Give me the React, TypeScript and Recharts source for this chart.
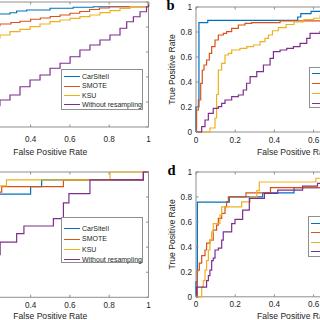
import React from 'react';
import { LineChart, Line, XAxis, YAxis, ReferenceArea, Legend } from 'recharts';

type Pt = [number, number];

const SERIES_NAMES = ['CarSiteII', 'SMOTE', 'KSU', 'Without resampling'];
const SERIES_COLORS = ['#0072BD', '#D95319', '#EDB120', '#7E2F8E'];
const RATE_TICKS = [0, 0.2, 0.4, 0.6, 0.8, 1];

// ROC points as [false positive rate, true positive rate]
const rocA_CarSiteII: Pt[] = [[0, 0], [0, 0.32], [0.02, 0.56], [0.04, 0.72], [0.07, 0.8], [0.1, 0.84], [0.15, 0.872], [0.2, 0.888], [0.235, 0.904], [0.295, 0.914], [0.329, 0.928], [0.38, 0.936], [0.499, 0.95], [0.617, 0.958], [0.719, 0.962], [1, 1]];
const rocA_SMOTE: Pt[] = [[0, 0], [0, 0.2], [0.01, 0.35], [0.03, 0.5], [0.06, 0.6], [0.1, 0.68], [0.14, 0.74], [0.19, 0.79], [0.22, 0.81], [0.244, 0.824], [0.3, 0.836], [0.346, 0.846], [0.4, 0.862], [0.45, 0.872], [0.5, 0.884], [0.55, 0.896], [0.6, 0.91], [0.65, 0.924], [0.7, 0.94], [0.75, 0.952], [0.8, 0.962], [1, 1]];
const rocA_KSU: Pt[] = [[0, 0], [0.01, 0.15], [0.03, 0.3], [0.06, 0.42], [0.1, 0.52], [0.14, 0.6], [0.18, 0.66], [0.22, 0.71], [0.244, 0.736], [0.295, 0.763], [0.346, 0.781], [0.397, 0.803], [0.448, 0.824], [0.499, 0.843], [0.55, 0.856], [0.601, 0.869], [0.651, 0.883], [0.702, 0.896], [0.753, 0.915], [0.804, 0.931], [0.855, 0.949], [0.906, 0.963], [1, 1]];
const rocA_Without: Pt[] = [[0, 0], [0.05, 0.04], [0.1, 0.08], [0.15, 0.12], [0.2, 0.17], [0.244, 0.216], [0.295, 0.256], [0.346, 0.322], [0.397, 0.376], [0.448, 0.416], [0.499, 0.47], [0.55, 0.51], [0.601, 0.562], [0.651, 0.616], [0.702, 0.656], [0.753, 0.696], [0.804, 0.736], [0.855, 0.79], [0.889, 0.842], [0.923, 0.882], [0.957, 0.922], [0.99, 0.962], [1, 1]];

const rocB_CarSiteII: Pt[] = [[0, 0], [0, 0.2], [0.015, 0.875], [0.06, 0.893], [0.519, 0.92], [0.535, 0.947], [0.587, 0.965], [0.7, 0.98], [0.8, 1], [1, 1]];
const rocB_SMOTE: Pt[] = [[0, 0], [0.003, 0.176], [0.012, 0.256], [0.024, 0.389], [0.032, 0.496], [0.041, 0.536], [0.054, 0.576], [0.068, 0.629], [0.08, 0.683], [0.097, 0.736], [0.114, 0.776], [0.139, 0.789], [0.156, 0.803], [0.182, 0.829], [0.216, 0.856], [0.25, 0.869], [0.284, 0.875], [0.429, 0.889], [0.7, 0.92], [0.8, 0.95], [0.9, 0.98], [1, 1]];
const rocB_KSU: Pt[] = [[0, 0], [0.046, 0], [0.071, 0.032], [0.097, 0.112], [0.105, 0.3], [0.114, 0.496], [0.131, 0.549], [0.148, 0.616], [0.165, 0.629], [0.182, 0.656], [0.224, 0.669], [0.259, 0.683], [0.293, 0.696], [0.327, 0.723], [0.352, 0.749], [0.37, 0.776], [0.39, 0.81], [0.42, 0.835], [0.46, 0.86], [0.5, 0.88], [0.55, 0.9], [0.6, 0.91], [0.633, 0.93], [0.75, 0.95], [0.85, 0.98], [1, 1]];
const rocB_Without: Pt[] = [[0, 0], [0.02, 0], [0.029, 0.043], [0.046, 0.096], [0.063, 0.149], [0.088, 0.189], [0.114, 0.203], [0.131, 0.229], [0.148, 0.256], [0.182, 0.283], [0.216, 0.296], [0.241, 0.336], [0.258, 0.39], [0.276, 0.443], [0.31, 0.483], [0.344, 0.536], [0.378, 0.589], [0.395, 0.643], [0.429, 0.656], [0.463, 0.669], [0.497, 0.683], [0.531, 0.709], [0.565, 0.749], [0.582, 0.789], [0.633, 0.803], [0.7, 0.83], [0.8, 0.88], [0.9, 0.94], [1, 1]];

const rocC_CarSiteII: Pt[] = [[0, 0], [0, 0.4], [0.02, 0.6], [0.05, 0.7], [0.1, 0.76], [0.15, 0.8], [0.2, 0.823], [0.4, 0.884], [0.456, 0.937], [0.974, 1], [1, 1]];
const rocC_SMOTE: Pt[] = [[0, 0], [0, 0.3], [0.02, 0.55], [0.05, 0.68], [0.1, 0.76], [0.16, 0.81], [0.22, 0.84], [0.253, 0.884], [0.567, 0.937], [0.974, 1], [1, 1]];
const rocC_KSU: Pt[] = [[0, 0], [0, 0.35], [0.03, 0.6], [0.07, 0.72], [0.12, 0.8], [0.18, 0.86], [0.22, 0.889], [0.277, 0.937], [0.804, 1], [1, 1]];
const rocC_Without: Pt[] = [[0, 0], [0.03, 0.05], [0.07, 0.11], [0.11, 0.18], [0.15, 0.26], [0.19, 0.34], [0.245, 0.441], [0.329, 0.508], [0.366, 0.569], [0.516, 0.628], [0.567, 0.753], [0.595, 0.827], [0.702, 0.937], [0.974, 1], [1, 1]];

const rocD_CarSiteII: Pt[] = [[0, 0], [0, 0.12], [0.007, 0.758], [0.17, 0.8], [0.34, 0.833], [0.5, 0.875], [0.65, 0.9], [0.8, 0.95], [0.9, 1], [1, 1]];
const rocD_SMOTE: Pt[] = [[0, 0], [0.007, 0.213], [0.017, 0.27], [0.029, 0.33], [0.046, 0.375], [0.054, 0.43], [0.071, 0.454], [0.088, 0.534], [0.105, 0.574], [0.114, 0.628], [0.131, 0.668], [0.148, 0.721], [0.156, 0.762], [0.165, 0.8], [0.255, 0.833], [0.38, 0.875], [0.7, 0.92], [0.85, 0.96], [0.95, 1], [1, 1]];
const rocD_KSU: Pt[] = [[0, 0], [0.012, 0], [0.029, 0.078], [0.037, 0.13], [0.046, 0.213], [0.054, 0.29], [0.063, 0.375], [0.071, 0.454], [0.08, 0.52], [0.088, 0.587], [0.122, 0.654], [0.131, 0.72], [0.233, 0.76], [0.276, 0.8], [0.31, 0.85], [0.323, 0.92], [0.612, 0.95], [0.8, 0.97], [1, 1]];
const rocD_Without: Pt[] = [[0, 0], [0.003, 0.078], [0.054, 0.13], [0.063, 0.17], [0.071, 0.213], [0.08, 0.29], [0.088, 0.31], [0.097, 0.375], [0.114, 0.39], [0.131, 0.454], [0.139, 0.52], [0.182, 0.587], [0.199, 0.62], [0.238, 0.695], [0.272, 0.788], [0.349, 0.829], [0.417, 0.855], [0.544, 0.887], [0.62, 0.909], [0.75, 0.94], [0.9, 0.97], [1, 1]];

const FONT = '"Liberation Sans", Arial, Helvetica, sans-serif';
const INK = '#262626';
const BOX = '#8f8f8f';

// chart chrome around each plot area
const YW = 30;
const MT = 10;
const MR = 10;
const XH = 35;

interface LegendSpec {
  x: number;
  y: number;
  h: number;
  first: number;
  gap: number;
}

interface PanelSpec {
  curves: Pt[][];
  left: number;
  top: number;
  pw: number;
  ph: number;
  tickGap: number;
  titleGap: number;
  yTitle: boolean;
  legend: LegendSpec;
}

const PANELS: PanelSpec[] = [
  {
    curves: [rocA_CarSiteII, rocA_SMOTE, rocA_KSU, rocA_Without],
    left: -48, top: 2, pw: 196.5, ph: 125, tickGap: 14.5, titleGap: 28, yTitle: false,
    legend: { x: 61, y: 69, h: 41, first: 6.7, gap: 9.4 },
  },
  {
    curves: [rocB_CarSiteII, rocB_SMOTE, rocB_KSU, rocB_Without],
    left: 196, top: 7, pw: 196, ph: 125, tickGap: 10.5, titleGap: 22.5, yTitle: true,
    legend: { x: 309, y: 67, h: 41, first: 5.5, gap: 10 },
  },
  {
    curves: [rocC_CarSiteII, rocC_SMOTE, rocC_KSU, rocC_Without],
    left: -48, top: 171.7, pw: 196.5, ph: 125.3, tickGap: 11, titleGap: 22, yTitle: false,
    legend: { x: 61, y: 217, h: 46, first: 11, gap: 10.3 },
  },
  {
    curves: [rocD_CarSiteII, rocD_SMOTE, rocD_KSU, rocD_Without],
    left: 196, top: 171.7, pw: 196, ph: 124.8, tickGap: 10, titleGap: 22.5, yTitle: true,
    legend: { x: 308, y: 216.5, h: 41, first: 6, gap: 9.5 },
  },
];

const fmt = (v: number) => String(v);

// keep legend rows in plotting order
const byPlotOrder = (payload: any[] = []) =>
  [...payload].sort((a, b) => SERIES_NAMES.indexOf(a.value) - SERIES_NAMES.indexOf(b.value));

const LegendBox = ({ payload, spec }: { payload?: any[]; spec: LegendSpec }) => (
  <div
    style={{
      position: 'relative',
      width: 82,
      height: spec.h,
      boxSizing: 'border-box',
      border: `1px solid ${BOX}`,
      background: '#fff',
      fontFamily: FONT,
      fontSize: 7,
      color: INK,
    }}
  >
    {byPlotOrder(payload).map((p, i) => (
      <div
        key={p.value}
        style={{
          position: 'absolute',
          left: 2,
          top: spec.first + i * spec.gap - 5,
          height: 10,
          display: 'flex',
          alignItems: 'center',
          whiteSpace: 'nowrap',
        }}
      >
        <span style={{ display: 'inline-block', width: 16, borderTop: `1.3px solid ${p.color}` }} />
        <span style={{ marginLeft: 2, lineHeight: '10px' }}>{p.value}</span>
      </div>
    ))}
  </div>
);

const Panel = ({ spec }: { spec: PanelSpec }) => {
  const { pw, ph } = spec;
  const W = YW + pw + MR;
  const H = MT + ph + XH;
  const chartLeft = spec.left - YW;
  const chartTop = spec.top - MT;

  // inward ticks on all four sides, labels on bottom and left
  const xTick = (props: any) => {
    const { x, y, payload } = props;
    return (
      <g>
        <line x1={x} x2={x} y1={y} y2={y - 2.5} stroke={BOX} />
        <line x1={x} x2={x} y1={y - ph} y2={y - ph + 2.5} stroke={BOX} />
        <text x={x} y={y + spec.tickGap} textAnchor="middle" fontSize={8.2} fill={INK} fontFamily={FONT}>
          {fmt(payload.value)}
        </text>
      </g>
    );
  };
  const yTick = (props: any) => {
    const { x, y, payload } = props;
    return (
      <g>
        <line x1={x} x2={x + 2.5} y1={y} y2={y} stroke={BOX} />
        <line x1={x + pw} x2={x + pw - 2.5} y1={y} y2={y} stroke={BOX} />
        <text x={x - 4} y={y + 3} textAnchor="end" fontSize={8.2} fill={INK} fontFamily={FONT}>
          {fmt(payload.value)}
        </text>
      </g>
    );
  };

  return (
    <div style={{ position: 'absolute', left: chartLeft, top: chartTop }}>
      <LineChart width={W} height={H} margin={{ top: MT, right: MR, bottom: 0, left: 0 }}>
        <XAxis
          type="number"
          dataKey="x"
          domain={[0, 1]}
          ticks={RATE_TICKS}
          interval={0}
          height={XH}
          tickSize={0}
          tickMargin={0}
          axisLine={false}
          tickLine={false}
          tick={xTick}
          label={() => (
            <text x={YW + pw / 2} y={MT + ph + spec.titleGap} textAnchor="middle" fontSize={8.6} fill={INK} fontFamily={FONT}>
              False Positive Rate
            </text>
          )}
        />
        <YAxis
          type="number"
          domain={[0, 1]}
          ticks={RATE_TICKS}
          interval={0}
          width={YW}
          tickSize={0}
          tickMargin={0}
          axisLine={false}
          tickLine={false}
          tick={yTick}
          label={() =>
            spec.yTitle ? (
              <text
                x={YW - 21}
                y={MT + ph / 2}
                transform={`rotate(-90 ${YW - 21} ${MT + ph / 2})`}
                textAnchor="middle"
                fontSize={8.6}
                fill={INK}
                fontFamily={FONT}
              >
                True Positive Rate
              </text>
            ) : null
          }
        />
        <ReferenceArea x1={0} x2={1} y1={0} y2={1} fill="none" stroke={BOX} strokeWidth={1} />
        {spec.curves.map((c, i) => (
          <Line
            key={SERIES_NAMES[i]}
            name={SERIES_NAMES[i]}
            data={c.map(([x, y]) => ({ x, y }))}
            dataKey="y"
            type="stepAfter"
            stroke={SERIES_COLORS[i]}
            strokeWidth={1.2}
            dot={false}
            activeDot={false}
            isAnimationActive={false}
          />
        ))}
        <Legend
          layout="vertical"
          align="center"
          verticalAlign="middle"
          wrapperStyle={{
            left: spec.legend.x - chartLeft,
            top: spec.legend.y - chartTop,
            width: 82,
            height: spec.legend.h,
          }}
          content={(props: any) => <LegendBox payload={props.payload} spec={spec.legend} />}
        />
      </LineChart>
    </div>
  );
};

export default function App() {
  return (
    <div
      style={{
        position: 'fixed',
        left: 0,
        top: 0,
        width: 320,
        height: 320,
        overflow: 'hidden',
        background: '#fff',
      }}
    >
      {PANELS.map((p, i) => (
        <Panel key={i} spec={p} />
      ))}
      <svg width={320} height={320} style={{ position: 'absolute', left: 0, top: 0, pointerEvents: 'none' }}>
        <text x={166.5} y={10} fontFamily='"Liberation Serif", "Times New Roman", serif' fontWeight="bold" fontSize={14.5} fill="#000">
          b
        </text>
        <text x={167.5} y={175} fontFamily='"Liberation Serif", "Times New Roman", serif' fontWeight="bold" fontSize={14.5} fill="#000">
          d
        </text>
      </svg>
    </div>
  );
}
